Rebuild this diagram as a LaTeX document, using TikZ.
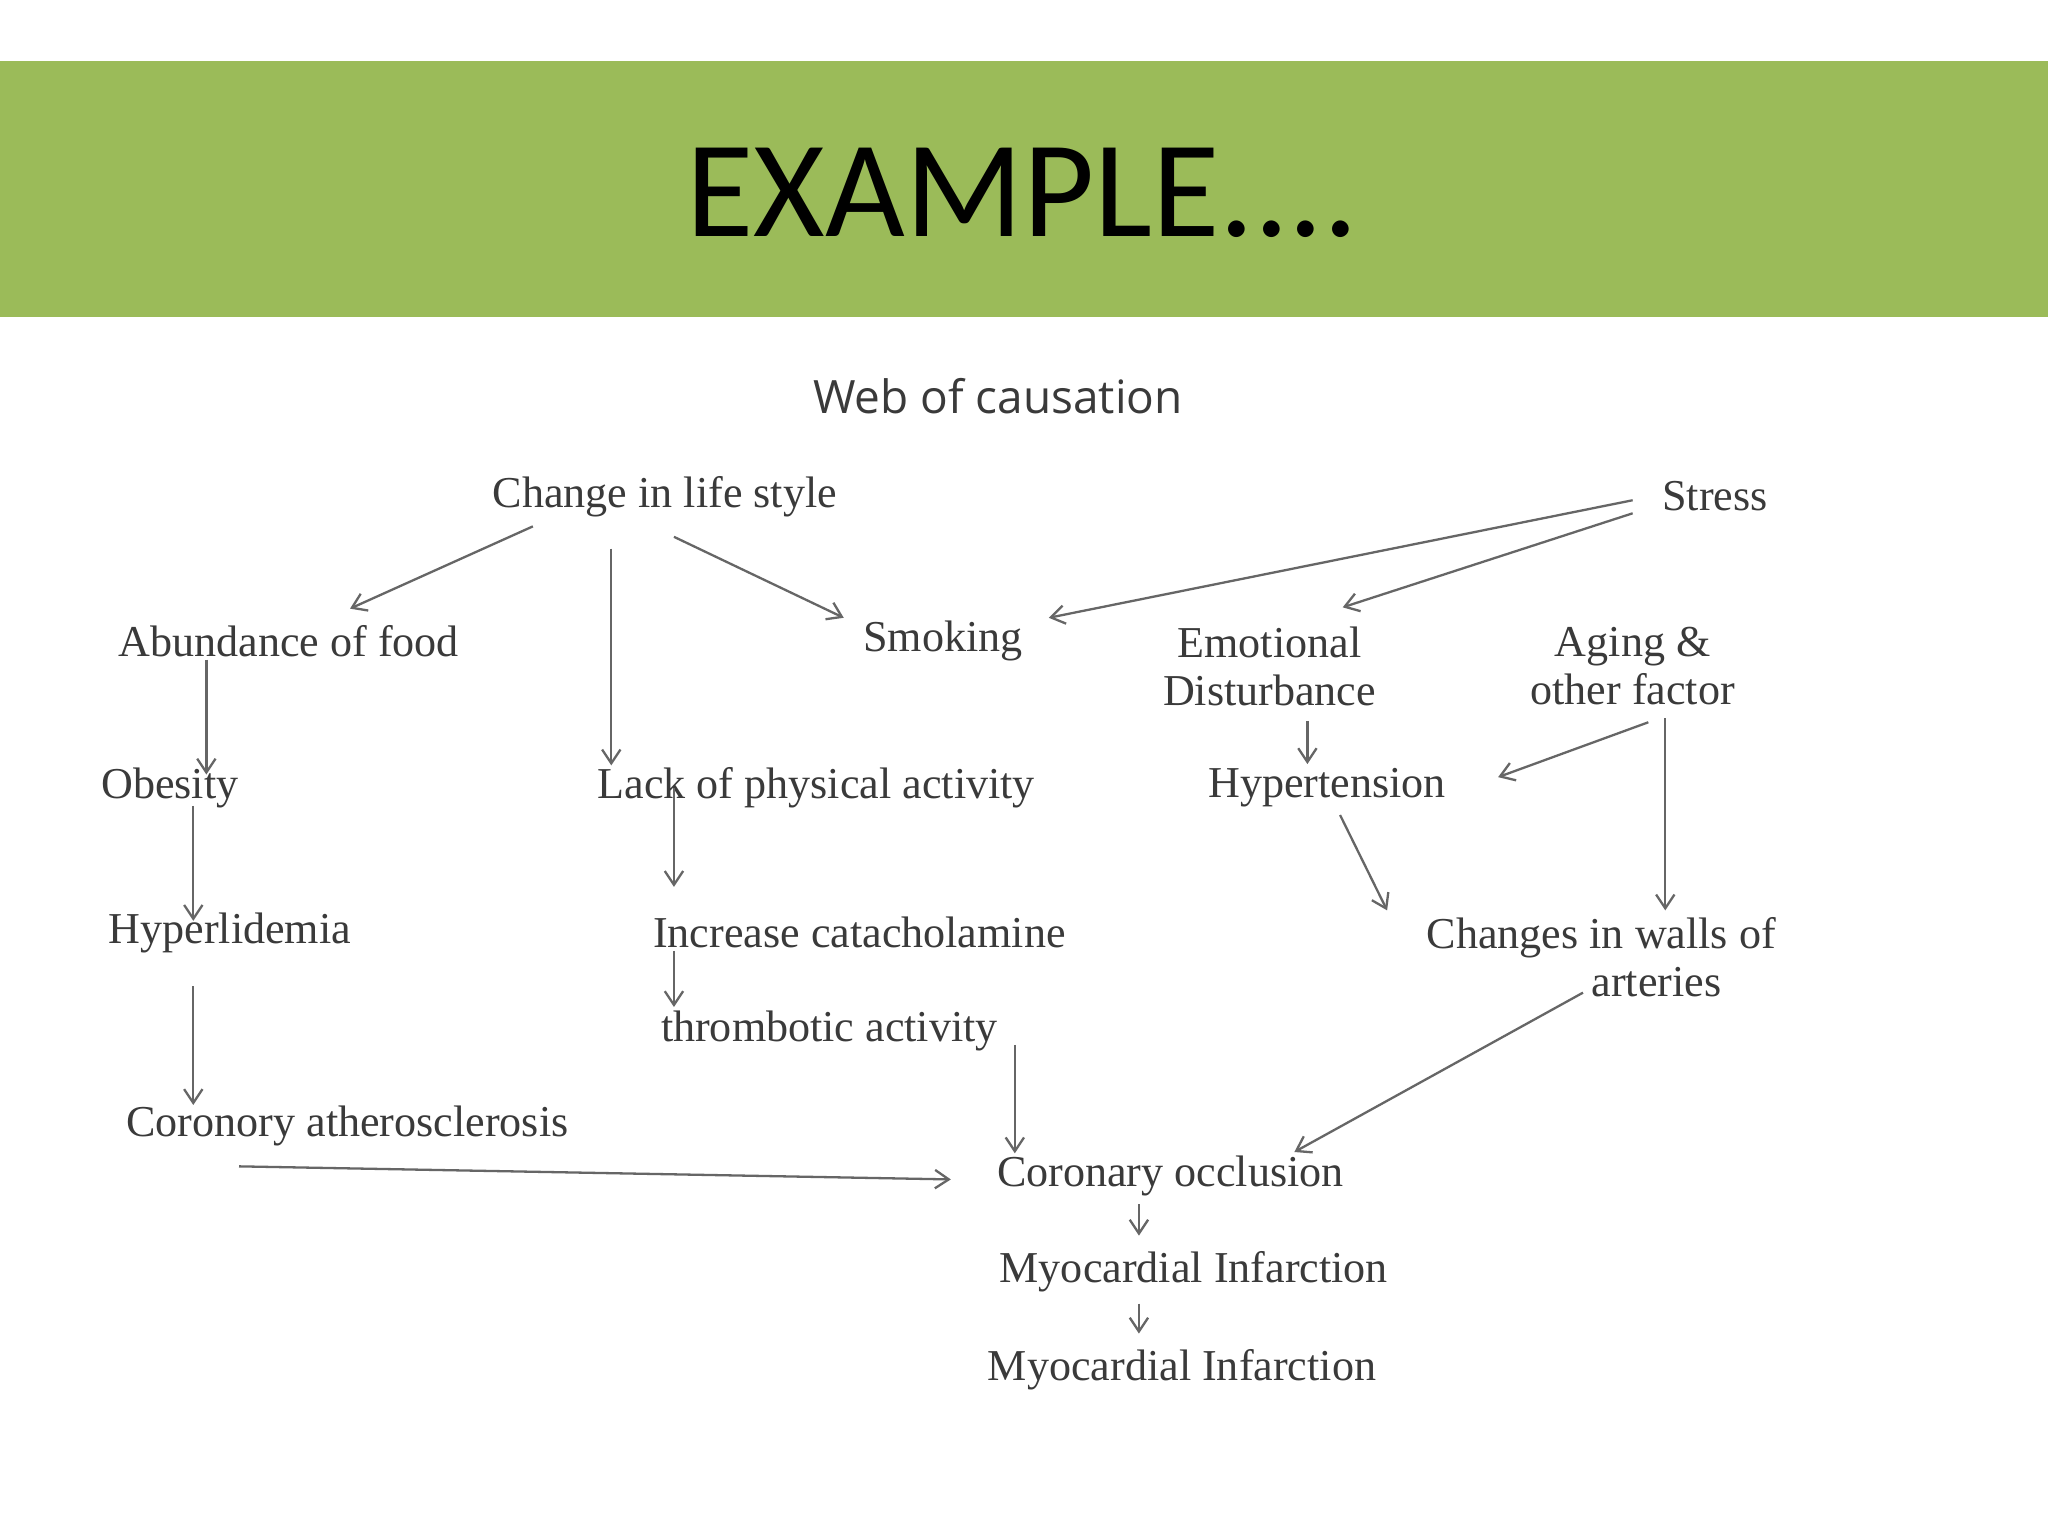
\documentclass[tikz,border=0pt]{standalone}
\usepackage{fontspec}
\setmainfont{Liberation Serif}
\newfontfamily\titlefont{Carlito}
\newfontfamily\websans{Open Sans}
\usetikzlibrary{arrows.meta}
\definecolor{band}{HTML}{9BBB59}
\definecolor{txt}{HTML}{3A3A3A}
\begin{document}
\begin{tikzpicture}[x=0.01cm,y=-0.01cm,
  lbl/.style={text=txt,font=\fontsize{9.6}{10.5}\selectfont,inner sep=0pt,align=center},
  arr/.style={draw=gray!80!black,line width=0.5pt,-{Straight Barb[length=3pt,width=4pt]}}]
\useasboundingbox (0,0) rectangle (1568,1176);
\fill[white] (0,0) rectangle (1568,1176);
\fill[band] (0,47) rectangle (1568,243);
\node (title) at (783,148) {\titlefont\fontsize{30}{32}\selectfont EXAMPLE....};
\node (web) at (764,303) {\websans\color{txt}\fontsize{10}{12}\selectfont Web of causation};
\node[lbl] (change) at (509,380) {Change in life style};
\node[lbl] (stress) at (1313,380) {Stress};
\node[lbl] (abund) at (221,491) {Abundance of food};
\node[lbl] (smoking) at (722,491) {Smoking};
\node[lbl] (emot) at (972,510) {Emotional\\ Disturbance};
\node[lbl] (aging) at (1250,510) {Aging \&\\ other factor};
\node[lbl] (obesity) at (130,603) {Obesity};
\node[lbl] (lack) at (625,603) {Lack of physical activity};
\node[lbl] (hyper) at (1016,603) {Hypertension};
\node[lbl] (hyperl) at (176,714) {Hyperlidemia};
\node[lbl] (incr) at (658,714) {Increase catacholamine};
\node[lbl] (walls) at (1226,733) {Changes in walls of\\ \hspace*{2.5em}arteries};
\node[lbl] (thromb) at (635,789) {thrombotic activity};
\node[lbl] (corath) at (266,862) {Coronory atherosclerosis};
\node[lbl] (occl) at (896,900) {Coronary occlusion};
\node[lbl] (mi1) at (914,974) {Myocardial Infarction};
\node[lbl] (mi2) at (905,1049) {Myocardial Infarction};
\draw[arr] (408,403) -- (268,466);
\draw[arr] (468,420) -- (468,586);
\draw[arr] (516,411) -- (646,473);
\draw[arr] (1250,383) -- (803,473);
\draw[arr] (1250,393) -- (1028,465);
\draw[arr] (158,505) -- (158,593);
\draw[arr] (1001,552) -- (1001,585);
\draw[arr] (1262,553) -- (1147,595);
\draw[arr] (1275,550) -- (1275,697);
\draw[arr] (148,617) -- (148,705);
\draw[arr] (516,603) -- (516,679);
\draw[arr] (1026,624) -- (1062,697);
\draw[arr] (516,728) -- (516,771);
\draw[arr] (148,755) -- (148,846);
\draw[arr] (777,800) -- (777,883);
\draw[arr] (1212,760) -- (991,882);
\draw[arr] (183,893) -- (728,903);
\draw[arr] (872,922) -- (872,946);
\draw[arr] (872,998) -- (872,1021);
\end{tikzpicture}
\end{document}
